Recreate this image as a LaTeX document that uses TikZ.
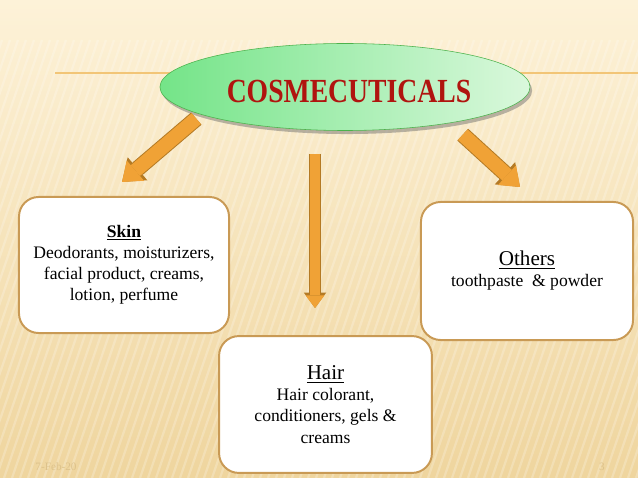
\documentclass[tikz,border=0pt]{standalone}
\usepackage{fontspec}
\setmainfont{Liberation Serif}
\usetikzlibrary{arrows.meta,shapes.geometric,shadows}

\definecolor{bgtop}{HTML}{FDF2D8}
\definecolor{bgbot}{HTML}{EFD59E}
\definecolor{boxedge}{HTML}{C99A55}
\definecolor{arrfill}{HTML}{F0A236}
\definecolor{arredge}{HTML}{B47A24}
\definecolor{titlered}{HTML}{B0140F}
\definecolor{elleft}{HTML}{74E488}
\definecolor{elright}{HTML}{DAF8DC}
\definecolor{footcol}{HTML}{DDC28B}
\definecolor{rulecol}{HTML}{F2C577}

\begin{document}
\begin{tikzpicture}[x=0.025cm,y=-0.025cm,
  catbox/.style={draw=boxedge,line width=1.4pt,fill=white,rounded corners=14pt,
    align=center,font=\fontsize{12.5}{15}\selectfont},
  sidearrow/.style={line width=10pt,draw=arrfill,shorten <=0.7pt,
    -{Triangle[width=19pt,length=12.5pt,line width=0pt,color=arrfill,fill=arrfill]},
    preaction={draw=arredge,line width=11.4pt,
      -{Triangle[width=21.5pt,length=14.5pt,line width=0pt,color=arredge,fill=arredge]}}},
  midarrow/.style={line width=7pt,draw=arrfill,shorten <=0.7pt,
    -{Triangle[width=13.5pt,length=9pt,line width=0pt,color=arrfill,fill=arrfill]},
    preaction={draw=arredge,line width=8.4pt,
      -{Triangle[width=16pt,length=11pt,line width=0pt,color=arredge,fill=arredge]}}},
  footnote/.style={text=footcol,font=\fontsize{8}{9}\selectfont}]

  % background
  \useasboundingbox (0,0) rectangle (638,478);
  \shade[top color=bgtop,bottom color=bgbot] (0,0) rectangle (638,478);
  \begin{scope}
    \clip (0,40) rectangle (638,478);
    \foreach \i in {-300,-292,...,640}
      \draw[white,opacity=0.22,line width=1.6pt] (\i,478) -- (\i+150,40);
  \end{scope}
  \draw[rulecol,line width=0.8pt] (55,73) -- (638,73);

  % heading
  \node[ellipse,minimum width=9.25cm,minimum height=2.175cm,draw=green!40!gray,line width=0.4pt,
    left color=elleft,right color=elright,
    drop shadow={shadow xshift=1.5pt,shadow yshift=-2.5pt,opacity=0.45,fill=black!60}] (cos) at (345,87) {};
  \node[text=titlered,font=\fontsize{24}{24}\bfseries\selectfont,inner sep=0pt] (title) at (349,91)
    {\scalebox{0.82}[1]{COSMECUTICALS}};

  % categories
  \node[catbox,minimum width=5.25cm,minimum height=3.4cm] (skin) at (124,265)
    {\textbf{\underline{Skin}}\\ Deodorants, moisturizers,\\ facial product, creams,\\ lotion, perfume};
  \node[catbox,minimum width=5.3cm,minimum height=3.45cm] (others) at (527,271)
    {{\fontsize{15}{15}\selectfont\underline{Others}}\\ toothpaste~ \& powder};
  \node[catbox,minimum width=5.32cm,minimum height=3.42cm] (hair) at (325.5,404.5)
    {{\fontsize{15}{15}\selectfont\underline{Hair}}\\ Hair colorant,\\ conditioners, gels \&\\ creams};

  % arrows
  \coordinate (skinTail) at (197,118);
  \coordinate (skinTip) at (122,182);
  \coordinate (hairTail) at (315,153);
  \coordinate (hairTip) at (315,308);
  \coordinate (othersTail) at (462,134);
  \coordinate (othersTip) at (520,187);
  \draw[sidearrow] (skinTail) -- (skinTip);
  \draw[midarrow] (hairTail) -- (hairTip);
  \draw[sidearrow] (othersTail) -- (othersTip);

  % footer
  \node[footnote] (date) at (56,467) {7-Feb-20};
  \node[footnote] (page) at (602,467) {3};
\end{tikzpicture}
\end{document}
